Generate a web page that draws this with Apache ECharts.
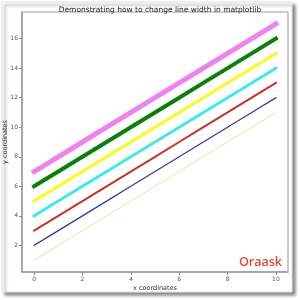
<!DOCTYPE html>
<html>
<head>
<meta charset="utf-8">
<script src="https://cdn.jsdelivr.net/npm/echarts@6/dist/echarts.min.js"></script>
<style>
  html, body { margin: 0; padding: 0; background: #fff; }
  #chart { width: 300px; height: 300px; }
</style>
</head>
<body>
<div id="chart"></div>
<script>
// data
const xValues = [0, 1, 2, 3, 4, 5, 6, 7, 8, 9, 10];
const violetLine = [7, 8, 9, 10, 11, 12, 13, 14, 15, 16, 17];
const greenLine = [6, 7, 8, 9, 10, 11, 12, 13, 14, 15, 16];
const yellowLine = [5, 6, 7, 8, 9, 10, 11, 12, 13, 14, 15];
const cyanLine = [4, 5, 6, 7, 8, 9, 10, 11, 12, 13, 14];
const redLine = [3, 4, 5, 6, 7, 8, 9, 10, 11, 12, 13];
const blueLine = [2, 3, 4, 5, 6, 7, 8, 9, 10, 11, 12];
const wheatLine = [1, 2, 3, 4, 5, 6, 7, 8, 9, 10, 11];
const xTicks = [0, 2, 4, 6, 8, 10];
const yTicks = [2, 4, 6, 8, 10, 12, 14, 16];

const lines = [
  { name: 'violet', values: violetLine, color: '#ee82ee', width: 5 },
  { name: 'green', values: greenLine, color: '#0a800a', width: 4 },
  { name: 'yellow', values: yellowLine, color: '#f8f840', width: 3.5 },
  { name: 'cyan', values: cyanLine, color: '#40e8e8', width: 3 },
  { name: 'red', values: redLine, color: '#c83228', width: 2 },
  { name: 'blue', values: blueLine, color: '#3a3aa0', width: 1.3 },
  { name: 'wheat', values: wheatLine, color: '#eedfb2', width: 1 }
];

const chart = echarts.init(document.getElementById('chart'));

const option = {
  animation: false,
  backgroundColor: '#fff',
  graphic: [
    {
      type: 'rect', z: -10, silent: true,
      shape: { x: 2, y: 2, width: 290, height: 290 },
      style: { fill: '#fff', stroke: '#e4e4e4', lineWidth: 1,
        shadowColor: 'rgba(0,0,0,0.45)', shadowBlur: 3, shadowOffsetX: 3, shadowOffsetY: 3 }
    },
    {
      type: 'text', z: 10, silent: true,
      left: 239, top: 256,
      style: { text: 'Oraask', fill: '#e24a2c', font: '600 12.5px "Open Sans", sans-serif' }
    }
  ],
  title: {
    text: 'Demonstrating how to change line width in matplotlib',
    left: 155, top: 1, textAlign: 'center',
    textStyle: { fontSize: 7.5, fontWeight: 'normal', color: '#222', fontFamily: 'DejaVu Sans' }
  },
  grid: {
    left: 22, right: 12, top: 12, bottom: 28,
    outerBoundsMode: 'none', containLabel: false,
    show: true, borderColor: '#9a9a9a', borderWidth: 1
  },
  xAxis: {
    type: 'value', min: -0.5, max: 10.5,
    name: 'x coordinates', nameLocation: 'middle', nameGap: 13, nameMoveOverlap: false,
    nameTextStyle: { fontSize: 6.5, color: '#333', fontFamily: 'DejaVu Sans' },
    axisLine: { show: true, onZero: false, lineStyle: { color: '#9a9a9a', width: 1.5 } },
    axisTick: { show: true, customValues: xTicks, length: 3, lineStyle: { color: '#888' } },
    axisLabel: { customValues: xTicks, fontSize: 6, color: '#555', margin: 4, fontFamily: 'DejaVu Sans' },
    splitLine: { show: false }
  },
  yAxis: {
    type: 'value', min: 0.2, max: 17.8,
    name: 'y coordinates', nameLocation: 'middle', nameGap: 13, nameMoveOverlap: false,
    nameTextStyle: { fontSize: 6.5, color: '#333', fontFamily: 'DejaVu Sans' },
    axisLine: { show: true, onZero: false, lineStyle: { color: '#9a9a9a', width: 1.5 } },
    axisTick: { show: true, customValues: yTicks, length: 3, lineStyle: { color: '#888' } },
    axisLabel: { customValues: yTicks, fontSize: 6, color: '#555', margin: 4, fontFamily: 'DejaVu Sans' },
    splitLine: { show: false }
  },
  series: lines.map(l => ({
    type: 'line',
    name: l.name,
    data: xValues.map((x, i) => [x, l.values[i]]),
    showSymbol: false,
    lineStyle: { color: l.color, width: l.width, cap: 'square' }
  }))
};

chart.setOption(option);
</script>
</body>
</html>
